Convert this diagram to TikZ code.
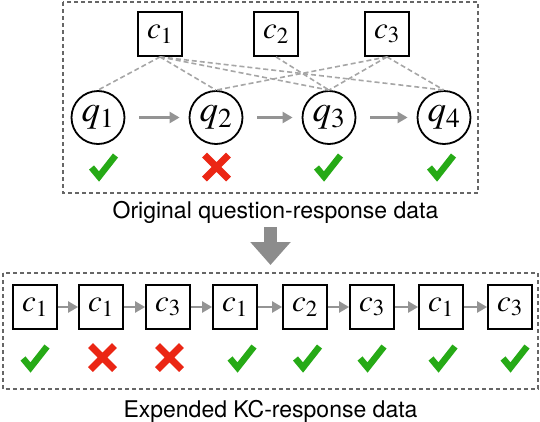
\documentclass[tikz,border=0pt]{standalone}
\usepackage		 {mathptmx}
\usepackage		 {fontspec}
\setsansfont{TeX Gyre Heros}
\usepackage		 {xcolor   }
\usepackage		 {tikz	  }
\usetikzlibrary{arrows.meta}

\definecolor{okgreen}{RGB}{38,170,22}
\definecolor{nored}{RGB}{235,38,20}

\begin{document}
\begin{tikzpicture}[x=1pt,y=-1pt]
  \tikzset{ c/.style={draw,line width=1.8pt,minimum size=44pt,inner sep=0pt,font=\fontsize{31}{36}\selectfont},
    q/.style={circle,draw,line width=1.8pt,minimum size=53pt,inner sep=0pt,font=\fontsize{37}{42}\selectfont},
    frame/.style={dash pattern=on 4pt off 3pt,line width=1.6pt,black!60},
    link/.style={dash pattern=on 5pt off 3pt,line width=1.6pt,black!35},
    go/.style={-{Triangle[length=10pt,width=11pt]},line width=2.4pt,black!42},
    title/.style={font=\sffamily\fontsize{23}{27}\selectfont,anchor=base,inner sep=0pt},
    okmark/.pic={\draw[okgreen,line width=6.5pt] (-12,1) -- (-4.5,10) -- (12,-11);},
    nomark/.pic={\draw[nored,line width=7pt] (-12,-12) -- (12,12) (-12,12) -- (12,-12);},
  }
  \useasboundingbox (0,0) rectangle (540,421);

  % original data
  \draw[frame] (63,2) rectangle (478,193);
  \node[c] (c1) at (160,34) {$c_1$};
  \node[c] (c2) at (276,34) {$c_2$};
  \node[c] (c3) at (387,34) {$c_3$};
  \node[q] (q1) at (98,117.5) {$q_1$};
  \node[q] (q2) at (216,117.5) {$q_2$};
  \node[q] (q3) at (329,117.5) {$q_3$};
  \node[q] (q4) at (444,117.5) {$q_4$};

  % the concepts of each question
  \draw[link] (c1.south) -- (q1.north);
  \draw[link] (c1.south) -- (q2.north);
  \draw[link] (c1.south) -- (q3.north);
  \draw[link] (c1.south) -- (q4.north);
  \draw[link] (c2.south) -- (q3.north);
  \draw[link] (c3.south) -- (q2.north);
  \draw[link] (c3.south) -- (q3.north);
  \draw[link] (c3.south) -- (q4.north);

  \draw[go,shorten <=14pt,shorten >=9pt] (q1) -- (q2);
  \draw[go,shorten <=14pt,shorten >=9pt] (q2) -- (q3);
  \draw[go,shorten <=14pt,shorten >=9pt] (q3) -- (q4);

  \pic at (103.5,166.5) {okmark};
  \pic at (216.5,167) {nomark};
  \pic at (328.5,166.5) {okmark};
  \pic at (441.5,166.5) {okmark};

  \node[title] (t1) at (275.5,218) {Original question-response data};

  % the expansion
  \coordinate (a1) at (270.5,227);
  \coordinate (a2) at (270.5,265);
  \draw[-{Triangle[length=23pt,width=39pt]},line width=13pt,black!45] (a1) -- (a2);

  % expanded data
  \draw[frame] (3,273) rectangle (538,389);
  \node[c] (k1) at (35,307) {$c_1$};
  \node[c] (k2) at (101,307) {$c_1$};
  \node[c] (k3) at (168,307) {$c_3$};
  \node[c] (k4) at (235,307) {$c_1$};
  \node[c] (k5) at (305,307) {$c_2$};
  \node[c] (k6) at (372,307) {$c_3$};
  \node[c] (k7) at (441,307) {$c_1$};
  \node[c] (k8) at (510,307) {$c_3$};

  \draw[go] (k1) -- (k2);
  \draw[go] (k2) -- (k3);
  \draw[go] (k3) -- (k4);
  \draw[go] (k4) -- (k5);
  \draw[go] (k5) -- (k6);
  \draw[go] (k6) -- (k7);
  \draw[go] (k7) -- (k8);

  \pic at (35,357.5) {okmark};
  \pic at (102.5,357.5) {nomark};
  \pic at (169.5,357.5) {nomark};
  \pic at (242,357.5) {okmark};
  \pic at (307.5,357.5) {okmark};
  \pic at (372,357.5) {okmark};
  \pic at (443,357.5) {okmark};
  \pic at (515,357.5) {okmark};

  \node[title] (t2) at (270.5,417) {Expended KC-response data};
\end{tikzpicture}
\end{document}
